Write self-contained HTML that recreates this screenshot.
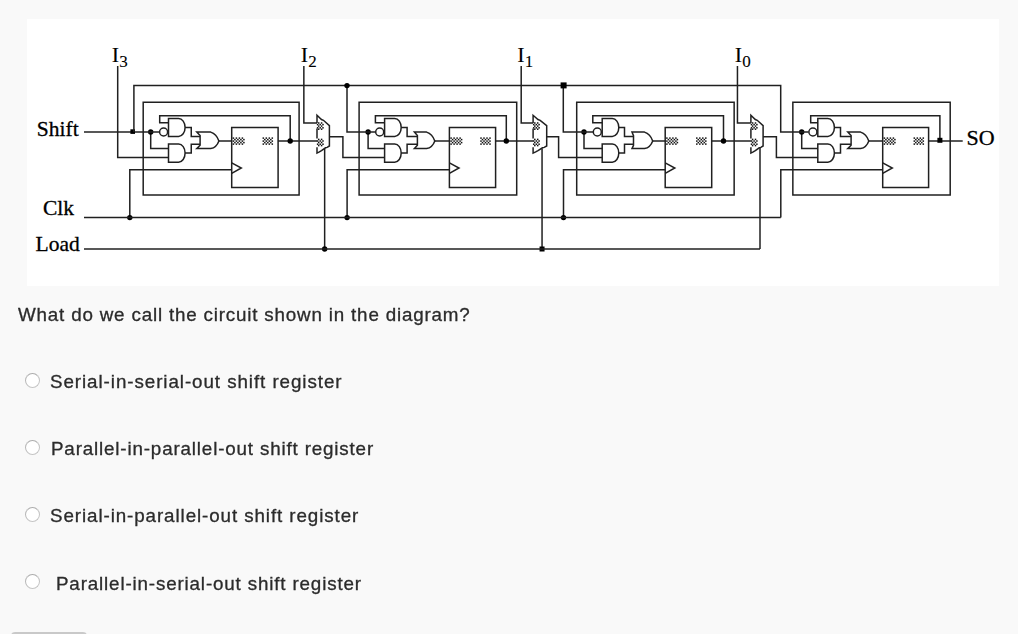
<!DOCTYPE html>
<html><head><meta charset="utf-8">
<style>
html,body{margin:0;padding:0;background:#f9f9f9;width:1018px;height:634px;overflow:hidden;position:relative;font-family:"Liberation Sans",sans-serif;}
#diag{position:absolute;left:27px;top:19px;width:972px;height:267px;background:#fff;}
svg{position:absolute;left:0;top:0;}
.w path,.w circle{fill:none;stroke:#202020;stroke-width:1.5;}
.w{filter:blur(0.4px);}
.w .f{fill:#000;stroke:none;}
.w .h{fill:#111;stroke:none;}
.lbl text{font-family:"Liberation Serif",serif;fill:#000;stroke:#000;stroke-width:0.3px;}
.q{position:absolute;left:17.8px;top:304.8px;font-size:17.9px;line-height:20px;letter-spacing:0.78px;color:#2b2b2b;white-space:nowrap;-webkit-text-stroke:0.3px #2b2b2b;transform:scaleX(1.05);transform-origin:0 0;}
.opt{position:absolute;font-size:17.9px;line-height:20px;color:#2b2b2b;white-space:nowrap;-webkit-text-stroke:0.3px #2b2b2b;transform:scaleX(1.05);transform-origin:0 0;}
.rad{position:absolute;width:15px;height:15px;border-radius:50%;border:1.8px solid #c4c4c4;border-top-color:#acacac;border-left-color:#b8b8b8;background:#fff;filter:blur(0.45px);box-sizing:border-box;}
.btn{position:absolute;left:10.8px;top:631.8px;width:76.2px;height:20px;border-radius:4px;background:#c9c9c9;}
</style></head><body>
<div id="diag"></div>
<svg width="1018" height="634" viewBox="0 0 1018 634">
<g class="w">
<path d="M143.20,102.3H299.10V195.1H143.20Z"/>
<path d="M290.20,141V115.7H159.70V122.8H168.50"/>
<path d="M150.70,132.0V148.4H168.50"/>
<circle cx="150.70" cy="132.00" r="2.7" class="f"/>
<circle cx="163.60" cy="132.0" r="4.0"/>
<path d="M168.50,118.5H178.60A6.5 8.95 0 0 1 178.60,136.40H168.50Z"/>
<path d="M168.50,144.0H178.60A6.5 9.10 0 0 1 178.60,162.20H168.50Z"/>
<path d="M185.10,127.4H191.25V136.6H200.10"/>
<path d="M185.10,153.1H191.25V144.3H200.10"/>
<path d="M196.80,132.1H210.70Q216.50,134 218.90,140.9Q216.50,147.5 210.70,148.6H196.80L200.10,145.3V135.6Z"/>
<path d="M218.90,141H231.70"/>
<path d="M231.70,127.6H278.10V187.6H231.70Z"/>
<rect x="232.65" y="137.35" width="1.5" height="1.5" class="h"/>
<rect x="235.65" y="137.35" width="1.5" height="1.5" class="h"/>
<rect x="238.65" y="137.35" width="1.5" height="1.5" class="h"/>
<rect x="241.65" y="137.35" width="1.5" height="1.5" class="h"/>
<rect x="234.15" y="138.85" width="1.5" height="1.5" class="h"/>
<rect x="237.15" y="138.85" width="1.5" height="1.5" class="h"/>
<rect x="240.15" y="138.85" width="1.5" height="1.5" class="h"/>
<rect x="243.15" y="138.85" width="1.5" height="1.5" class="h"/>
<rect x="232.65" y="140.35" width="1.5" height="1.5" class="h"/>
<rect x="235.65" y="140.35" width="1.5" height="1.5" class="h"/>
<rect x="238.65" y="140.35" width="1.5" height="1.5" class="h"/>
<rect x="241.65" y="140.35" width="1.5" height="1.5" class="h"/>
<rect x="234.15" y="141.85" width="1.5" height="1.5" class="h"/>
<rect x="237.15" y="141.85" width="1.5" height="1.5" class="h"/>
<rect x="240.15" y="141.85" width="1.5" height="1.5" class="h"/>
<rect x="243.15" y="141.85" width="1.5" height="1.5" class="h"/>
<rect x="232.65" y="143.35" width="1.5" height="1.5" class="h"/>
<rect x="235.65" y="143.35" width="1.5" height="1.5" class="h"/>
<rect x="238.65" y="143.35" width="1.5" height="1.5" class="h"/>
<rect x="241.65" y="143.35" width="1.5" height="1.5" class="h"/>
<rect x="262.55" y="137.35" width="1.5" height="1.5" class="h"/>
<rect x="265.55" y="137.35" width="1.5" height="1.5" class="h"/>
<rect x="268.55" y="137.35" width="1.5" height="1.5" class="h"/>
<rect x="271.55" y="137.35" width="1.5" height="1.5" class="h"/>
<rect x="264.05" y="138.85" width="1.5" height="1.5" class="h"/>
<rect x="267.05" y="138.85" width="1.5" height="1.5" class="h"/>
<rect x="270.05" y="138.85" width="1.5" height="1.5" class="h"/>
<rect x="262.55" y="140.35" width="1.5" height="1.5" class="h"/>
<rect x="265.55" y="140.35" width="1.5" height="1.5" class="h"/>
<rect x="268.55" y="140.35" width="1.5" height="1.5" class="h"/>
<rect x="271.55" y="140.35" width="1.5" height="1.5" class="h"/>
<rect x="264.05" y="141.85" width="1.5" height="1.5" class="h"/>
<rect x="267.05" y="141.85" width="1.5" height="1.5" class="h"/>
<rect x="270.05" y="141.85" width="1.5" height="1.5" class="h"/>
<rect x="262.55" y="143.35" width="1.5" height="1.5" class="h"/>
<rect x="265.55" y="143.35" width="1.5" height="1.5" class="h"/>
<rect x="268.55" y="143.35" width="1.5" height="1.5" class="h"/>
<rect x="271.55" y="143.35" width="1.5" height="1.5" class="h"/>
<path d="M231.70,162.9L241.30,168L231.70,173.3"/>
<path d="M129.80,217.6V169.7H231.70"/>
<circle cx="129.80" cy="217.60" r="2.7" class="f"/>
<path d="M278.10,141H317.00"/>
<circle cx="290.20" cy="141.00" r="2.7" class="f"/>
<path d="M317.00,123.0V115.3L321.46,119.5L323.45,120.3L329.40,125.7V146.0L327.12,147.4L325.53,147.8L321.46,150.6L319.38,151.9L317.00,153.1V147.2"/>
<path d="M317.00,128.5V138.4"/>
<rect x="317.95" y="122.25" width="1.5" height="1.5" class="h"/>
<rect x="320.85" y="122.25" width="1.5" height="1.5" class="h"/>
<rect x="316.85" y="123.85" width="1.5" height="1.5" class="h"/>
<rect x="319.45" y="123.85" width="1.5" height="1.5" class="h"/>
<rect x="322.25" y="123.85" width="1.5" height="1.5" class="h"/>
<rect x="317.95" y="125.35" width="1.5" height="1.5" class="h"/>
<rect x="320.85" y="125.35" width="1.5" height="1.5" class="h"/>
<rect x="316.85" y="127.05" width="1.5" height="1.5" class="h"/>
<rect x="319.45" y="127.05" width="1.5" height="1.5" class="h"/>
<rect x="322.25" y="127.05" width="1.5" height="1.5" class="h"/>
<rect x="317.95" y="128.45" width="1.5" height="1.5" class="h"/>
<rect x="320.85" y="128.45" width="1.5" height="1.5" class="h"/>
<rect x="317.95" y="138.65" width="1.5" height="1.5" class="h"/>
<rect x="320.85" y="138.65" width="1.5" height="1.5" class="h"/>
<rect x="316.85" y="140.25" width="1.5" height="1.5" class="h"/>
<rect x="319.45" y="140.25" width="1.5" height="1.5" class="h"/>
<rect x="322.25" y="140.25" width="1.5" height="1.5" class="h"/>
<rect x="317.95" y="141.75" width="1.5" height="1.5" class="h"/>
<rect x="320.85" y="141.75" width="1.5" height="1.5" class="h"/>
<rect x="316.85" y="143.45" width="1.5" height="1.5" class="h"/>
<rect x="319.45" y="143.45" width="1.5" height="1.5" class="h"/>
<rect x="322.25" y="143.45" width="1.5" height="1.5" class="h"/>
<rect x="317.95" y="144.85" width="1.5" height="1.5" class="h"/>
<rect x="320.85" y="144.85" width="1.5" height="1.5" class="h"/>
<path d="M324.65,148.88V249"/>
<circle cx="324.65" cy="249.00" r="2.7" class="f"/>
<path d="M329.40,136.8H342.90V157.6H384.60"/>
<path d="M303.85,66V122.9H317.00"/>
<path d="M359.10,102.3H516.70V195.1H359.10Z"/>
<path d="M506.30,141V115.7H375.40V122.8H384.60"/>
<path d="M368.10,132.0V148.4H384.60"/>
<circle cx="368.10" cy="132.00" r="2.7" class="f"/>
<circle cx="379.70" cy="132.0" r="4.0"/>
<path d="M384.60,118.5H394.70A6.5 8.95 0 0 1 394.70,136.40H384.60Z"/>
<path d="M384.60,144.0H394.70A6.5 9.10 0 0 1 394.70,162.20H384.60Z"/>
<path d="M401.20,127.4H407.10V136.6H417.40"/>
<path d="M401.20,153.1H407.10V144.3H417.40"/>
<path d="M414.40,132.1H426.60Q432.40,134 434.80,140.9Q432.40,147.5 426.60,148.6H414.40L417.40,145.3V135.6Z"/>
<path d="M434.80,141H449.40"/>
<path d="M449.40,127.6H495.60V187.6H449.40Z"/>
<rect x="450.35" y="137.35" width="1.5" height="1.5" class="h"/>
<rect x="453.35" y="137.35" width="1.5" height="1.5" class="h"/>
<rect x="456.35" y="137.35" width="1.5" height="1.5" class="h"/>
<rect x="459.35" y="137.35" width="1.5" height="1.5" class="h"/>
<rect x="451.85" y="138.85" width="1.5" height="1.5" class="h"/>
<rect x="454.85" y="138.85" width="1.5" height="1.5" class="h"/>
<rect x="457.85" y="138.85" width="1.5" height="1.5" class="h"/>
<rect x="460.85" y="138.85" width="1.5" height="1.5" class="h"/>
<rect x="450.35" y="140.35" width="1.5" height="1.5" class="h"/>
<rect x="453.35" y="140.35" width="1.5" height="1.5" class="h"/>
<rect x="456.35" y="140.35" width="1.5" height="1.5" class="h"/>
<rect x="459.35" y="140.35" width="1.5" height="1.5" class="h"/>
<rect x="451.85" y="141.85" width="1.5" height="1.5" class="h"/>
<rect x="454.85" y="141.85" width="1.5" height="1.5" class="h"/>
<rect x="457.85" y="141.85" width="1.5" height="1.5" class="h"/>
<rect x="460.85" y="141.85" width="1.5" height="1.5" class="h"/>
<rect x="450.35" y="143.35" width="1.5" height="1.5" class="h"/>
<rect x="453.35" y="143.35" width="1.5" height="1.5" class="h"/>
<rect x="456.35" y="143.35" width="1.5" height="1.5" class="h"/>
<rect x="459.35" y="143.35" width="1.5" height="1.5" class="h"/>
<rect x="480.25" y="137.35" width="1.5" height="1.5" class="h"/>
<rect x="483.25" y="137.35" width="1.5" height="1.5" class="h"/>
<rect x="486.25" y="137.35" width="1.5" height="1.5" class="h"/>
<rect x="489.25" y="137.35" width="1.5" height="1.5" class="h"/>
<rect x="481.75" y="138.85" width="1.5" height="1.5" class="h"/>
<rect x="484.75" y="138.85" width="1.5" height="1.5" class="h"/>
<rect x="487.75" y="138.85" width="1.5" height="1.5" class="h"/>
<rect x="480.25" y="140.35" width="1.5" height="1.5" class="h"/>
<rect x="483.25" y="140.35" width="1.5" height="1.5" class="h"/>
<rect x="486.25" y="140.35" width="1.5" height="1.5" class="h"/>
<rect x="489.25" y="140.35" width="1.5" height="1.5" class="h"/>
<rect x="481.75" y="141.85" width="1.5" height="1.5" class="h"/>
<rect x="484.75" y="141.85" width="1.5" height="1.5" class="h"/>
<rect x="487.75" y="141.85" width="1.5" height="1.5" class="h"/>
<rect x="480.25" y="143.35" width="1.5" height="1.5" class="h"/>
<rect x="483.25" y="143.35" width="1.5" height="1.5" class="h"/>
<rect x="486.25" y="143.35" width="1.5" height="1.5" class="h"/>
<rect x="489.25" y="143.35" width="1.5" height="1.5" class="h"/>
<path d="M449.40,162.9L459.00,168L449.40,173.3"/>
<path d="M347.10,217.6V169.7H449.40"/>
<circle cx="347.10" cy="217.60" r="2.7" class="f"/>
<path d="M495.60,141H533.10"/>
<circle cx="506.30" cy="141.00" r="2.7" class="f"/>
<path d="M533.10,123.0V115.3L538.00,119.5L540.17,120.3L546.70,125.7V146.0L544.20,147.4L542.46,147.8L538.00,150.6L535.71,151.9L533.10,153.1V147.2"/>
<path d="M533.10,128.5V138.4"/>
<rect x="534.05" y="122.25" width="1.5" height="1.5" class="h"/>
<rect x="536.95" y="122.25" width="1.5" height="1.5" class="h"/>
<rect x="532.95" y="123.85" width="1.5" height="1.5" class="h"/>
<rect x="535.55" y="123.85" width="1.5" height="1.5" class="h"/>
<rect x="538.35" y="123.85" width="1.5" height="1.5" class="h"/>
<rect x="534.05" y="125.35" width="1.5" height="1.5" class="h"/>
<rect x="536.95" y="125.35" width="1.5" height="1.5" class="h"/>
<rect x="532.95" y="127.05" width="1.5" height="1.5" class="h"/>
<rect x="535.55" y="127.05" width="1.5" height="1.5" class="h"/>
<rect x="538.35" y="127.05" width="1.5" height="1.5" class="h"/>
<rect x="534.05" y="128.45" width="1.5" height="1.5" class="h"/>
<rect x="536.95" y="128.45" width="1.5" height="1.5" class="h"/>
<rect x="534.05" y="138.65" width="1.5" height="1.5" class="h"/>
<rect x="536.95" y="138.65" width="1.5" height="1.5" class="h"/>
<rect x="532.95" y="140.25" width="1.5" height="1.5" class="h"/>
<rect x="535.55" y="140.25" width="1.5" height="1.5" class="h"/>
<rect x="538.35" y="140.25" width="1.5" height="1.5" class="h"/>
<rect x="534.05" y="141.75" width="1.5" height="1.5" class="h"/>
<rect x="536.95" y="141.75" width="1.5" height="1.5" class="h"/>
<rect x="532.95" y="143.45" width="1.5" height="1.5" class="h"/>
<rect x="535.55" y="143.45" width="1.5" height="1.5" class="h"/>
<rect x="538.35" y="143.45" width="1.5" height="1.5" class="h"/>
<rect x="534.05" y="144.85" width="1.5" height="1.5" class="h"/>
<rect x="536.95" y="144.85" width="1.5" height="1.5" class="h"/>
<path d="M542.05,148.59V249"/>
<rect x="539.55" y="246.50" width="5" height="5" class="f"/>
<path d="M546.70,136.8H558.60V157.6H602.20"/>
<path d="M521.20,66V122.9H533.10"/>
<path d="M576.70,102.3H734.15V195.1H576.70Z"/>
<path d="M723.50,141V115.7H592.80V122.8H602.20"/>
<path d="M584.00,132.0V148.4H602.20"/>
<circle cx="584.00" cy="132.00" r="2.7" class="f"/>
<circle cx="597.30" cy="132.0" r="4.0"/>
<path d="M602.20,118.5H612.30A6.5 8.95 0 0 1 612.30,136.40H602.20Z"/>
<path d="M602.20,144.0H612.30A6.5 9.10 0 0 1 612.30,162.20H602.20Z"/>
<path d="M618.80,127.4H624.50V136.6H633.50"/>
<path d="M618.80,153.1H624.50V144.3H633.50"/>
<path d="M632.00,132.1H644.50Q650.30,134 652.70,140.9Q650.30,147.5 644.50,148.6H632.00L633.50,145.3V135.6Z"/>
<path d="M652.70,141H665.20"/>
<path d="M665.20,127.6H711.70V187.6H665.20Z"/>
<rect x="666.15" y="137.35" width="1.5" height="1.5" class="h"/>
<rect x="669.15" y="137.35" width="1.5" height="1.5" class="h"/>
<rect x="672.15" y="137.35" width="1.5" height="1.5" class="h"/>
<rect x="675.15" y="137.35" width="1.5" height="1.5" class="h"/>
<rect x="667.65" y="138.85" width="1.5" height="1.5" class="h"/>
<rect x="670.65" y="138.85" width="1.5" height="1.5" class="h"/>
<rect x="673.65" y="138.85" width="1.5" height="1.5" class="h"/>
<rect x="676.65" y="138.85" width="1.5" height="1.5" class="h"/>
<rect x="666.15" y="140.35" width="1.5" height="1.5" class="h"/>
<rect x="669.15" y="140.35" width="1.5" height="1.5" class="h"/>
<rect x="672.15" y="140.35" width="1.5" height="1.5" class="h"/>
<rect x="675.15" y="140.35" width="1.5" height="1.5" class="h"/>
<rect x="667.65" y="141.85" width="1.5" height="1.5" class="h"/>
<rect x="670.65" y="141.85" width="1.5" height="1.5" class="h"/>
<rect x="673.65" y="141.85" width="1.5" height="1.5" class="h"/>
<rect x="676.65" y="141.85" width="1.5" height="1.5" class="h"/>
<rect x="666.15" y="143.35" width="1.5" height="1.5" class="h"/>
<rect x="669.15" y="143.35" width="1.5" height="1.5" class="h"/>
<rect x="672.15" y="143.35" width="1.5" height="1.5" class="h"/>
<rect x="675.15" y="143.35" width="1.5" height="1.5" class="h"/>
<rect x="696.05" y="137.35" width="1.5" height="1.5" class="h"/>
<rect x="699.05" y="137.35" width="1.5" height="1.5" class="h"/>
<rect x="702.05" y="137.35" width="1.5" height="1.5" class="h"/>
<rect x="705.05" y="137.35" width="1.5" height="1.5" class="h"/>
<rect x="697.55" y="138.85" width="1.5" height="1.5" class="h"/>
<rect x="700.55" y="138.85" width="1.5" height="1.5" class="h"/>
<rect x="703.55" y="138.85" width="1.5" height="1.5" class="h"/>
<rect x="696.05" y="140.35" width="1.5" height="1.5" class="h"/>
<rect x="699.05" y="140.35" width="1.5" height="1.5" class="h"/>
<rect x="702.05" y="140.35" width="1.5" height="1.5" class="h"/>
<rect x="705.05" y="140.35" width="1.5" height="1.5" class="h"/>
<rect x="697.55" y="141.85" width="1.5" height="1.5" class="h"/>
<rect x="700.55" y="141.85" width="1.5" height="1.5" class="h"/>
<rect x="703.55" y="141.85" width="1.5" height="1.5" class="h"/>
<rect x="696.05" y="143.35" width="1.5" height="1.5" class="h"/>
<rect x="699.05" y="143.35" width="1.5" height="1.5" class="h"/>
<rect x="702.05" y="143.35" width="1.5" height="1.5" class="h"/>
<rect x="705.05" y="143.35" width="1.5" height="1.5" class="h"/>
<path d="M665.20,162.9L674.80,168L665.20,173.3"/>
<path d="M563.50,217.6V169.7H665.20"/>
<circle cx="563.50" cy="217.60" r="2.7" class="f"/>
<path d="M711.70,141H750.90"/>
<circle cx="723.50" cy="141.00" r="2.7" class="f"/>
<path d="M750.90,123.0V115.3L755.29,119.5L757.24,120.3L763.10,125.7V146.0L760.86,147.4L759.29,147.8L755.29,150.6L753.24,151.9L750.90,153.1V147.2"/>
<path d="M750.90,128.5V138.4"/>
<rect x="751.85" y="122.25" width="1.5" height="1.5" class="h"/>
<rect x="754.75" y="122.25" width="1.5" height="1.5" class="h"/>
<rect x="750.75" y="123.85" width="1.5" height="1.5" class="h"/>
<rect x="753.35" y="123.85" width="1.5" height="1.5" class="h"/>
<rect x="756.15" y="123.85" width="1.5" height="1.5" class="h"/>
<rect x="751.85" y="125.35" width="1.5" height="1.5" class="h"/>
<rect x="754.75" y="125.35" width="1.5" height="1.5" class="h"/>
<rect x="750.75" y="127.05" width="1.5" height="1.5" class="h"/>
<rect x="753.35" y="127.05" width="1.5" height="1.5" class="h"/>
<rect x="756.15" y="127.05" width="1.5" height="1.5" class="h"/>
<rect x="751.85" y="128.45" width="1.5" height="1.5" class="h"/>
<rect x="754.75" y="128.45" width="1.5" height="1.5" class="h"/>
<rect x="751.85" y="138.65" width="1.5" height="1.5" class="h"/>
<rect x="754.75" y="138.65" width="1.5" height="1.5" class="h"/>
<rect x="750.75" y="140.25" width="1.5" height="1.5" class="h"/>
<rect x="753.35" y="140.25" width="1.5" height="1.5" class="h"/>
<rect x="756.15" y="140.25" width="1.5" height="1.5" class="h"/>
<rect x="751.85" y="141.75" width="1.5" height="1.5" class="h"/>
<rect x="754.75" y="141.75" width="1.5" height="1.5" class="h"/>
<rect x="750.75" y="143.45" width="1.5" height="1.5" class="h"/>
<rect x="753.35" y="143.45" width="1.5" height="1.5" class="h"/>
<rect x="756.15" y="143.45" width="1.5" height="1.5" class="h"/>
<rect x="751.85" y="144.85" width="1.5" height="1.5" class="h"/>
<rect x="754.75" y="144.85" width="1.5" height="1.5" class="h"/>
<path d="M760.00,147.98V249"/>
<path d="M763.10,136.8H776.40V157.6H817.80"/>
<path d="M737.45,66V122.9H750.90"/>
<path d="M792.85,102.3H950.20V195.1H792.85Z"/>
<path d="M939.90,141V115.7H810.70V122.8H817.80"/>
<path d="M801.70,132.0V148.4H817.80"/>
<circle cx="801.70" cy="132.00" r="2.7" class="f"/>
<circle cx="812.90" cy="132.0" r="4.0"/>
<path d="M817.80,118.5H827.90A6.5 8.95 0 0 1 827.90,136.40H817.80Z"/>
<path d="M817.80,144.0H827.90A6.5 9.10 0 0 1 827.90,162.20H817.80Z"/>
<path d="M834.40,127.4H840.50V136.6H851.10"/>
<path d="M834.40,153.1H840.50V144.3H851.10"/>
<path d="M847.80,132.1H860.60Q866.40,134 868.80,140.9Q866.40,147.5 860.60,148.6H847.80L851.10,145.3V135.6Z"/>
<path d="M868.80,141H882.70"/>
<path d="M882.70,127.6H928.60V187.6H882.70Z"/>
<rect x="883.65" y="137.35" width="1.5" height="1.5" class="h"/>
<rect x="886.65" y="137.35" width="1.5" height="1.5" class="h"/>
<rect x="889.65" y="137.35" width="1.5" height="1.5" class="h"/>
<rect x="892.65" y="137.35" width="1.5" height="1.5" class="h"/>
<rect x="885.15" y="138.85" width="1.5" height="1.5" class="h"/>
<rect x="888.15" y="138.85" width="1.5" height="1.5" class="h"/>
<rect x="891.15" y="138.85" width="1.5" height="1.5" class="h"/>
<rect x="894.15" y="138.85" width="1.5" height="1.5" class="h"/>
<rect x="883.65" y="140.35" width="1.5" height="1.5" class="h"/>
<rect x="886.65" y="140.35" width="1.5" height="1.5" class="h"/>
<rect x="889.65" y="140.35" width="1.5" height="1.5" class="h"/>
<rect x="892.65" y="140.35" width="1.5" height="1.5" class="h"/>
<rect x="885.15" y="141.85" width="1.5" height="1.5" class="h"/>
<rect x="888.15" y="141.85" width="1.5" height="1.5" class="h"/>
<rect x="891.15" y="141.85" width="1.5" height="1.5" class="h"/>
<rect x="894.15" y="141.85" width="1.5" height="1.5" class="h"/>
<rect x="883.65" y="143.35" width="1.5" height="1.5" class="h"/>
<rect x="886.65" y="143.35" width="1.5" height="1.5" class="h"/>
<rect x="889.65" y="143.35" width="1.5" height="1.5" class="h"/>
<rect x="892.65" y="143.35" width="1.5" height="1.5" class="h"/>
<rect x="913.55" y="137.35" width="1.5" height="1.5" class="h"/>
<rect x="916.55" y="137.35" width="1.5" height="1.5" class="h"/>
<rect x="919.55" y="137.35" width="1.5" height="1.5" class="h"/>
<rect x="922.55" y="137.35" width="1.5" height="1.5" class="h"/>
<rect x="915.05" y="138.85" width="1.5" height="1.5" class="h"/>
<rect x="918.05" y="138.85" width="1.5" height="1.5" class="h"/>
<rect x="921.05" y="138.85" width="1.5" height="1.5" class="h"/>
<rect x="913.55" y="140.35" width="1.5" height="1.5" class="h"/>
<rect x="916.55" y="140.35" width="1.5" height="1.5" class="h"/>
<rect x="919.55" y="140.35" width="1.5" height="1.5" class="h"/>
<rect x="922.55" y="140.35" width="1.5" height="1.5" class="h"/>
<rect x="915.05" y="141.85" width="1.5" height="1.5" class="h"/>
<rect x="918.05" y="141.85" width="1.5" height="1.5" class="h"/>
<rect x="921.05" y="141.85" width="1.5" height="1.5" class="h"/>
<rect x="913.55" y="143.35" width="1.5" height="1.5" class="h"/>
<rect x="916.55" y="143.35" width="1.5" height="1.5" class="h"/>
<rect x="919.55" y="143.35" width="1.5" height="1.5" class="h"/>
<rect x="922.55" y="143.35" width="1.5" height="1.5" class="h"/>
<path d="M882.70,162.9L892.30,168L882.70,173.3"/>
<path d="M780.80,217.6V169.7H882.70"/>
<path d="M928.60,141H962.7"/>
<rect x="937.40" y="137.80" width="5" height="5" class="f"/>
<path d="M84,132H159.30"/>
<rect x="130.40" y="129.30" width="4.6" height="4.6" class="f"/>
<path d="M133.9,132V85.6H780.7V132H808.60"/>
<path d="M347.00,85.6V132H375.40"/>
<path d="M563.30,85.6V132H593.00"/>
<circle cx="347.00" cy="85.60" r="2.7" class="f"/>
<rect x="560.60" y="82.40" width="6" height="6" class="f"/>
<path d="M117.7,66V157.5H168.5"/>
<path d="M84,217.6H780.8"/>
<path d="M84,249H760.0"/>
</g>
<g class="lbl">

<text x="36.8" y="135.6" style="font-size:21.5px">Shift</text>
<text x="43.0" y="215" style="font-size:21.5px">Clk</text>
<text x="35.6" y="250.6" style="font-size:21.5px">Load</text>
<text x="966.5" y="145.2" style="font-size:22px">SO</text>
<text x="111.8" y="62" style="font-size:22px;stroke-width:0.1px">I<tspan style="font-size:17px" dx="0.1" dy="4.8">3</tspan></text>
<text x="300.8" y="62" style="font-size:22px;stroke-width:0.1px">I<tspan style="font-size:17px" dx="0.1" dy="4.8">2</tspan></text>
<text x="517.3000000000001" y="62" style="font-size:22px;stroke-width:0.1px">I<tspan style="font-size:17px" dx="0.1" dy="4.8">1</tspan></text>
<text x="734.7" y="62" style="font-size:22px;stroke-width:0.1px">I<tspan style="font-size:17px" dx="0.1" dy="4.8">0</tspan></text>

</g>
</svg>
<div class="q">What do we call the circuit shown in the diagram?</div>
<div class="rad" style="left:24.7px;top:373.2px"></div>
<div class="opt" style="left:49.8px;top:372.2px;letter-spacing:0.885px">Serial-in-serial-out shift register</div>
<div class="rad" style="left:24.7px;top:440.2px"></div>
<div class="opt" style="left:50.6px;top:439.4px;letter-spacing:0.80px">Parallel-in-parallel-out shift register</div>
<div class="rad" style="left:24.7px;top:507.2px"></div>
<div class="opt" style="left:50px;top:506.2px;letter-spacing:0.865px">Serial-in-parallel-out shift register</div>
<div class="rad" style="left:24.7px;top:574.2px"></div>
<div class="opt" style="left:56.3px;top:573.5px;letter-spacing:0.805px">Parallel-in-serial-out shift register</div>
<div class="btn"></div>
</body></html>
